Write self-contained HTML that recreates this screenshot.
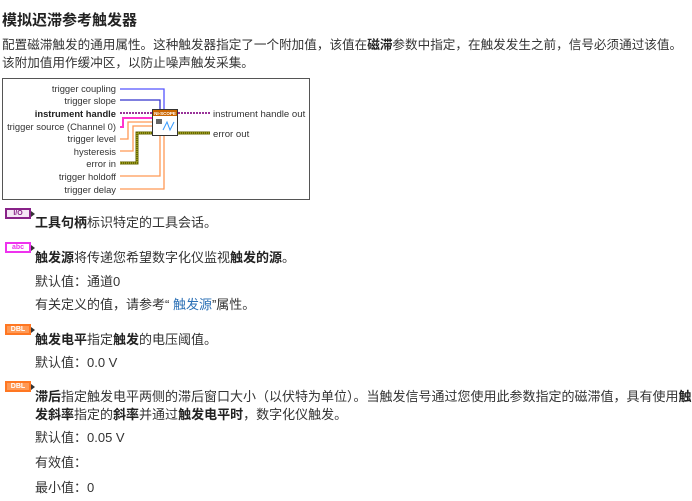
<!DOCTYPE html>
<html><head><meta charset="utf-8"><style>
body{margin:0;width:692px;height:501px;background:#fff;font-family:"Liberation Sans","Noto Sans CJK SC",sans-serif;color:#333;position:relative;overflow:hidden}
.a{position:absolute;white-space:nowrap}
.t{font-size:13px;line-height:16px}
b{font-weight:bold;color:#222}
.ic{position:absolute;width:26px;height:11px;box-sizing:border-box;border:2px solid;font-size:7px;line-height:7px;text-align:center;font-weight:bold}
.ic:after{content:"";position:absolute;right:-6px;top:1px;border-left:4px solid #333;border-top:3px solid transparent;border-bottom:3px solid transparent}
</style></head><body>
<div class="a" style="left:2px;top:9px;font-size:15px;font-weight:bold;color:#222">模拟迟滞参考触发器</div>
<div class="a t" style="left:2px;top:37px;font-size:12.6px">配置磁滞触发的通用属性。这种触发器指定了一个附加值，该值在<b>磁滞</b>参数中指定，在触发发生之前，信号必须通过该值。</div>
<div class="a t" style="left:2px;top:55px;font-size:12.6px">该附加值用作缓冲区，以防止噪声触发采集。</div>

<svg class="a" style="left:0;top:0" width="692" height="501">
<rect x="2.5" y="78.5" width="307" height="121" fill="#fff" stroke="#555"/>
<g font-family="Liberation Sans,sans-serif" font-size="9.4" fill="#333" text-anchor="end">
<text x="116" y="92">trigger coupling</text>
<text x="116" y="104">trigger slope</text>
<text x="116" y="117" font-weight="bold" fill="#222">instrument handle</text>
<text x="116" y="130">trigger source (Channel 0)</text>
<text x="116" y="142">trigger level</text>
<text x="116" y="155">hysteresis</text>
<text x="116" y="167">error in</text>
<text x="116" y="180">trigger holdoff</text>
<text x="116" y="193">trigger delay</text>
</g>
<g font-family="Liberation Sans,sans-serif" font-size="9.6" fill="#333">
<text x="213" y="117">instrument handle out</text>
<text x="213" y="137">error out</text>
</g>
<g fill="none" stroke-width="1.3">
<polyline points="120,89 164,89 164,110" stroke="#5555ff"/>
<polyline points="120,100 160,100 160,110" stroke="#3333cc"/>
<polyline points="120,127 123,127 123,118 152,118" stroke="#ff33cc" stroke-width="2"/>
<polyline points="120,139 128,139 128,122 152,122" stroke="#ff9955"/>
<polyline points="120,151 133,151 133,126 152,126" stroke="#ff9955"/>
<polyline points="120,176 160,176 160,135" stroke="#ff9955"/>
<polyline points="120,189 164,189 164,135" stroke="#ff9955"/>
<polyline points="120,113 152,113" stroke="#993399" stroke-dasharray="2,1" stroke-width="2"/>
<polyline points="178,113 210,113" stroke="#993399" stroke-dasharray="2,1" stroke-width="2"/>
<polyline points="120,163 137,163 137,133 152,133" stroke="#666600" stroke-width="3"/>
<polyline points="120,163 137,163 137,133 152,133" stroke="#cccc33" stroke-width="1" stroke-dasharray="1,1"/>
<polyline points="178,133 210,133" stroke="#666600" stroke-width="3"/>
<polyline points="178,133 210,133" stroke="#cccc33" stroke-width="1" stroke-dasharray="1,1"/>
</g>
<rect x="152.5" y="109.5" width="25" height="26" fill="#fff" stroke="#333"/>
<rect x="153" y="110" width="24" height="6" fill="#cc6600"/>
<text x="165" y="115" font-size="4.5" fill="#fff" text-anchor="middle" font-family="Liberation Sans,sans-serif" font-weight="bold">NI-SCOPE</text>
<rect x="156" y="119" width="6" height="5" fill="#666"/>
<polyline points="163,130 167,122 170,130 174,122" fill="none" stroke="#3399ff"/>
</svg>

<div class="ic" style="left:5px;top:208px;border-color:#882288;color:#882288;background:#f4e6f4">I/O</div>
<div class="a t" style="left:35px;top:215px"><b>工具句柄</b>标识特定的工具会话。</div>

<div class="ic" style="left:5px;top:242px;border-color:#ee33ee;color:#ee33ee;background:#fff">abc</div>
<div class="a t" style="left:35px;top:250px"><b>触发源</b>将传递您希望数字化仪监视<b>触发的源</b>。</div>
<div class="a t" style="left:35px;top:274px">默认值：通道0</div>
<div class="a t" style="left:35px;top:297px">有关定义的值，请参考“ <span style="color:#2a6fb5">触发源</span>”属性。</div>

<div class="ic" style="left:5px;top:324px;border-color:#ff7722;color:#fff;background:#ff9955">DBL</div>
<div class="a t" style="left:35px;top:332px"><b>触发电平</b>指定<b>触发</b>的电压阈值。</div>
<div class="a t" style="left:35px;top:355px">默认值：0.0 V</div>

<div class="ic" style="left:5px;top:381px;border-color:#ff7722;color:#fff;background:#ff9955">DBL</div>
<div class="a t" style="left:35px;top:389px"><b>滞后</b>指定触发电平两侧的滞后窗口大小（以伏特为单位）。当触发信号通过您使用此参数指定的磁滞值，具有使用<b>触</b></div>
<div class="a t" style="left:35px;top:407px"><b>发斜率</b>指定的<b>斜率</b>并通过<b>触发电平时</b>，数字化仪触发。</div>
<div class="a t" style="left:35px;top:430px">默认值：0.05 V</div>
<div class="a t" style="left:35px;top:455px">有效值：</div>
<div class="a t" style="left:35px;top:480px">最小值：0</div>
</body></html>
